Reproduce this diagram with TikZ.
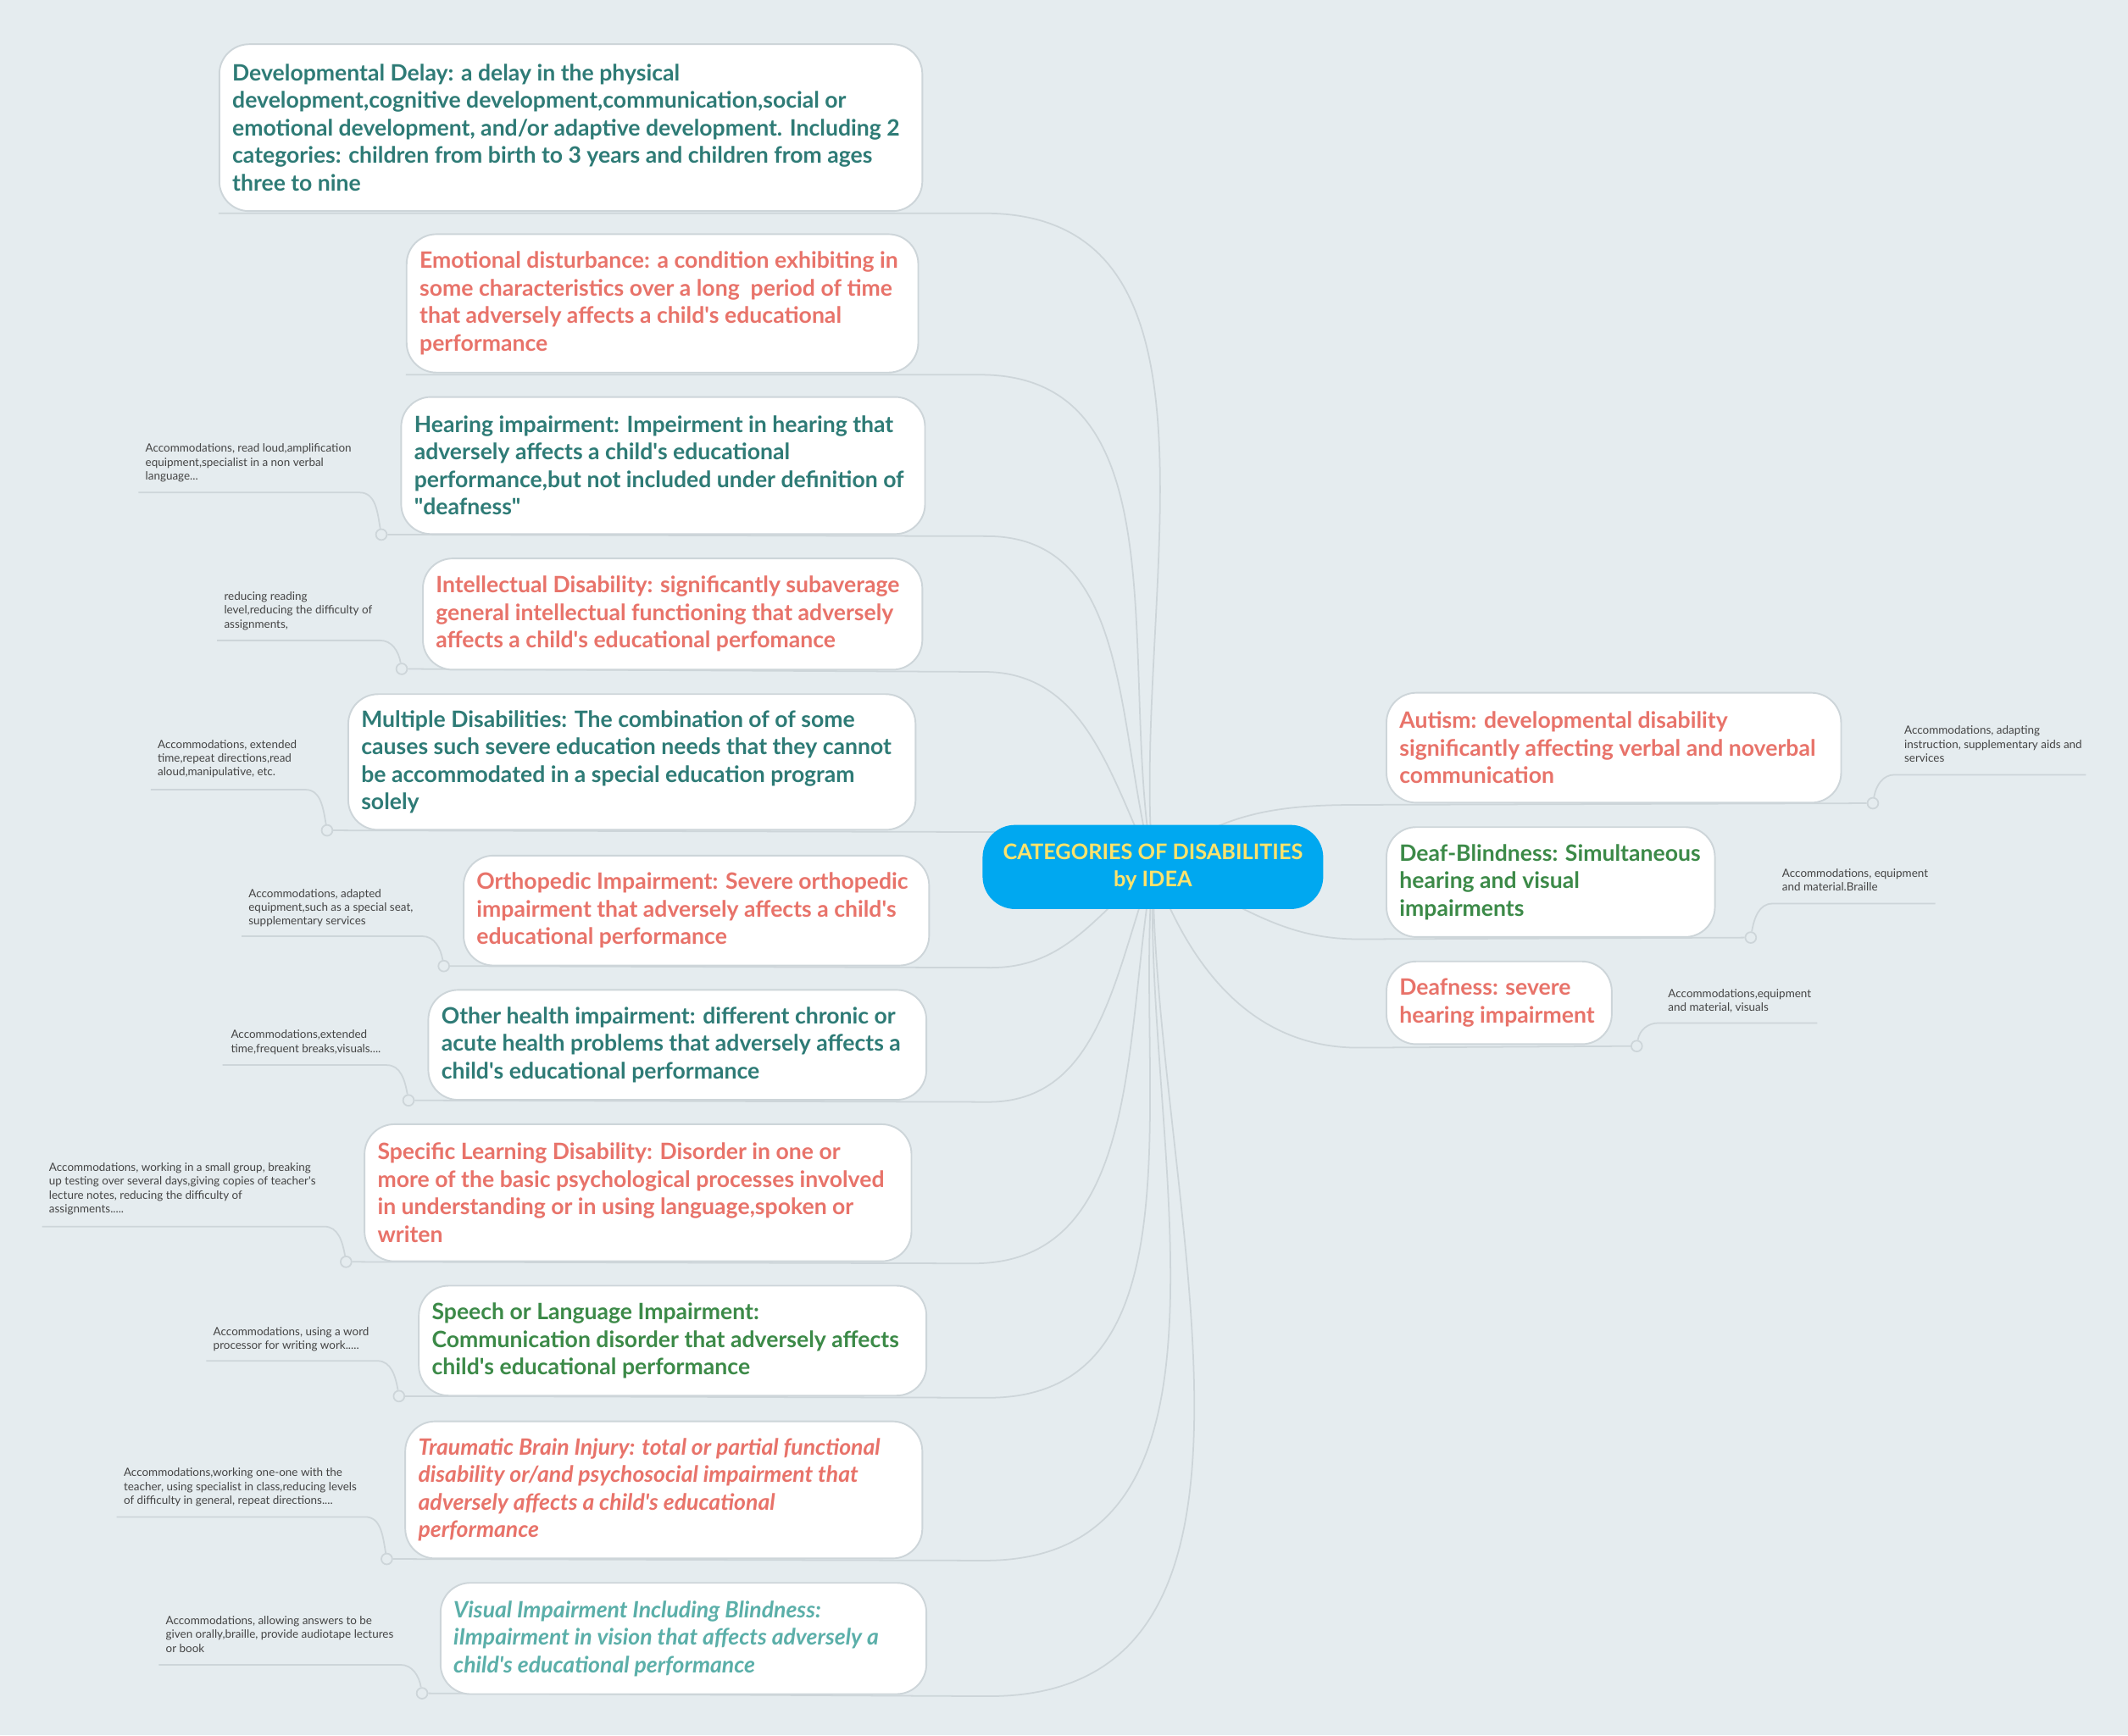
\documentclass[tikz,border=0pt]{standalone}
\usepackage{fontspec}
\setmainfont{Lato}
\usetikzlibrary{calc}
\definecolor{bgc}{HTML}{E5ECEF}
\definecolor{lnc}{HTML}{CDD5D9}
\definecolor{teal}{HTML}{2E7B76}
\definecolor{salm}{HTML}{E8736A}
\definecolor{grn}{HTML}{3C8A48}
\definecolor{lteal}{HTML}{5BAFA9}
\definecolor{ctr}{HTML}{00A8F0}
\definecolor{ylw}{HTML}{FFE36B}
\definecolor{notec}{HTML}{444444}
\pgfdeclarelayer{bg}\pgfdeclarelayer{lines}
\pgfsetlayers{bg,lines,main}
\newcommand\q{\textquotesingle}
\tikzset{
 box/.style={draw=lnc,fill=white,rounded corners=22pt,line width=1.2pt,inner sep=0pt},
 conn/.style={draw=lnc,line width=1.1pt},
 dot/.style={circle,draw=lnc,fill=bgc,line width=1.1pt,minimum size=8pt,inner sep=0pt},
 notetext/.style={anchor=north west,align=left,inner sep=0pt,text=notec,font=\fontsize{8.4}{10.2}\selectfont}
}
\newcommand\catbox[8]{%
 \node[box,minimum width={#4-#2},minimum height={#5-#3},anchor=north west] (#1) at (#2,#3) {};
 \node[anchor=west,align=left,inner sep=0pt,text=#6,font=\fontsize{16.6}{20.3}\selectfont\bfseries#7] (#1t) at ($(#1.west)+(10,0)$) {#8};}
\begin{document}
\begin{tikzpicture}[x=1pt,y=-1pt]
\begin{pgfonlayer}{bg}
\fill[bgc] (0,0) rectangle (1568,1279);
\end{pgfonlayer}
\useasboundingbox (0,0) rectangle (1568,1279);

\node[fill=ctr,rounded corners=24pt,minimum width=251pt,minimum height=62pt,align=center,text=ylw,font=\fontsize{15.8}{20}\selectfont\bfseries] (c) at (849.5,639) {CATEGORIES OF DISABILITIES\\by IDEA};

\catbox{n1}{161}{32}{679}{155}{teal}{}{Developmental Delay: a delay in the physical\\development,cognitive development,communication,social or\\emotional development, and/or adaptive development. Including 2\\categories: children from birth to 3 years and children from ages\\three to nine}
\catbox{n2}{299}{172}{676}{274}{salm}{}{Emotional disturbance: a condition exhibiting in\\some characteristics over a long\ \ period of time\\that adversely affects a child\q s educational\\performance}
\catbox{n3}{295}{292}{681}{393}{teal}{}{Hearing impairment: Impeirment in hearing that\\adversely affects a child\q s educational\\performance,but not included under definition of\\\textquotedbl deafness\textquotedbl}
\catbox{n4}{311}{411}{679}{493}{salm}{}{Intellectual Disability: significantly subaverage\\general intellectual functioning that adversely\\affects a child\q s educational perfomance}
\catbox{n5}{256}{511}{674}{611}{teal}{}{Multiple Disabilities: The combination of of some\\causes such severe education needs that they cannot\\be accommodated in a special education program\\solely}
\catbox{n6}{341}{630}{684}{711}{salm}{}{Orthopedic Impairment: Severe orthopedic\\impairment that adversely affects a child\q s\\educational performance}
\catbox{n7}{315}{729}{682}{810}{teal}{}{Other health impairment: different chronic or\\acute health problems that adversely affects a\\child\q s educational performance}
\catbox{n8}{268}{828}{671}{929}{salm}{}{Specific Learning Disability: Disorder in one or\\more of the basic psychological processes involved\\in understanding or in using language,spoken or\\writen}
\catbox{n9}{308}{947}{682}{1028}{grn}{}{Speech or Language Impairment:\\Communication disorder that adversely affects\\child\q s educational performance}
\catbox{n10}{298}{1047}{679}{1148}{salm}{\itshape}{Traumatic Brain Injury: total or partial functional\\disability or/and psychosocial impairment that\\adversely affects a child\q s educational\\performance}
\catbox{n11}{324}{1166}{682}{1248}{lteal}{\itshape}{Visual Impairment Including Blindness:\\iImpairment in vision that affects adversely a\\child\q s educational performance}
\catbox{r1}{1021}{510}{1356}{591}{salm}{}{Autism: developmental disability\\significantly affecting verbal and noverbal\\communication}
\catbox{r2}{1021}{609}{1263}{690}{grn}{}{Deaf-Blindness: Simultaneous\\hearing and visual\\impairments}
\catbox{r3}{1021}{708}{1187}{769}{salm}{}{Deafness: severe\\hearing impairment}

% dots
\node[dot] (d3) at (281,394) {};
\node[dot] (d4) at (296,493) {};
\node[dot] (d5) at (241,612) {};
\node[dot] (d6) at (327,712) {};
\node[dot] (d7) at (301,811) {};
\node[dot] (d8) at (255,930) {};
\node[dot] (d9) at (294,1029) {};
\node[dot] (d10) at (285,1149) {};
\node[dot] (d11) at (311,1248) {};
\node[dot] (e1) at (1380,592) {};
\node[dot] (e2) at (1290,691) {};
\node[dot] (e3) at (1206,771) {};

% notes
\node[notetext] (t3) at (107,327) {Accommodations, read loud,amplification\\equipment,specialist in a non verbal\\language...};
\node[notetext] (t4) at (165,436) {reducing reading\\level,reducing the difficulty of\\assignments,};
\node[notetext] (t5) at (116,545) {Accommodations, extended\\time,repeat directions,read\\aloud,manipulative, etc.};
\node[notetext] (t6) at (183,655) {Accommodations, adapted\\equipment,such as a special seat,\\supplementary services};
\node[notetext] (t7) at (170,759) {Accommodations,extended\\time,frequent breaks,visuals....};
\node[notetext] (t8) at (36,857) {Accommodations, working in a small group, breaking\\up testing over several days,giving copies of teacher\q s\\lecture notes, reducing the difficulty of\\assignments.....};
\node[notetext] (t9) at (157,978) {Accommodations, using a word\\processor for writing work.....};
\node[notetext] (t10) at (91,1082) {Accommodations,working one-one with the\\teacher, using specialist in class,reducing levels\\of difficulty in general, repeat directions....};
\node[notetext] (t11) at (122,1191) {Accommodations, allowing answers to be\\given orally,braille, provide audiotape lectures\\or book};
\node[notetext] (u1) at (1403,535) {Accommodations, adapting\\instruction, supplementary aids and\\services};
\node[notetext] (u2) at (1313,640) {Accommodations, equipment\\and material.Braille};
\node[notetext] (u3) at (1229,729) {Accommodations,equipment\\and material, visuals};

\begin{pgfonlayer}{lines}
\draw[conn] (c.center) to[out=95,in=0] ($(n1.south east)+(45,1)$) -- ($(n1.south west)+(0,1)$);
\draw[conn] (c.center) to[out=100,in=0] ($(n2.south east)+(45,1)$) -- ($(n2.south west)+(0,1)$);
\draw[conn] (c.center) to[out=105,in=0] ($(n3.south east)+(45,1)$) -- (d3);
\draw[conn] (c.center) to[out=115,in=0] ($(n4.south east)+(45,1)$) -- (d4);
\draw[conn] (c.center) to[out=150,in=0] ($(n5.south east)+(45,1)$) -- (d5);
\draw[conn] (c.center) to[out=220,in=0] ($(n6.south east)+(45,1)$) -- (d6);
\draw[conn] (c.center) to[out=250,in=0] ($(n7.south east)+(45,1)$) -- (d7);
\draw[conn] (c.center) to[out=260,in=0] ($(n8.south east)+(45,1)$) -- (d8);
\draw[conn] (c.center) to[out=265,in=0] ($(n9.south east)+(45,1)$) -- (d9);
\draw[conn] (c.center) to[out=268,in=0] ($(n10.south east)+(45,1)$) -- (d10);
\draw[conn] (c.center) to[out=270,in=0] ($(n11.south east)+(45,1)$) -- (d11);
\draw[conn] (c.center) to[out=40,in=180] ($(r1.south west)+(-20,1)$) -- (e1);
\draw[conn] (c.center) to[out=-20,in=180] ($(r2.south west)+(-20,1)$) -- (e2);
\draw[conn] (c.center) to[out=-70,in=180] ($(r3.south west)+(-20,2)$) -- (e3);
\draw[conn] (d3) to[out=100,in=0] (265,363) -- (102,363);
\draw[conn] (d4) to[out=100,in=0] (280,472) -- (160,472);
\draw[conn] (d5) to[out=100,in=0] (225,582) -- (111,582);
\draw[conn] (d6) to[out=100,in=0] (311,690) -- (178,690);
\draw[conn] (d7) to[out=100,in=0] (285,785) -- (164,785);
\draw[conn] (d8) to[out=100,in=0] (239,904) -- (31,904);
\draw[conn] (d9) to[out=100,in=0] (278,1003) -- (152,1003);
\draw[conn] (d10) to[out=100,in=0] (269,1118) -- (86,1118);
\draw[conn] (d11) to[out=100,in=0] (295,1227) -- (117,1227);
\draw[conn] (e1) to[out=80,in=180] (1396,571) -- (1537,571);
\draw[conn] (e2) to[out=80,in=180] (1306,666) -- (1426,666);
\draw[conn] (e3) to[out=80,in=180] (1222,754) -- (1339,754);
\end{pgfonlayer}
\end{tikzpicture}
\end{document}
